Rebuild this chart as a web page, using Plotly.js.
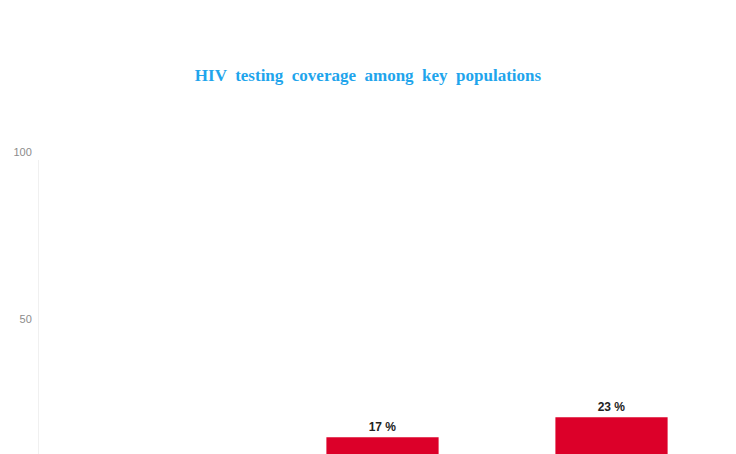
<!DOCTYPE html>
<html>
<head>
<meta charset="utf-8">
<script src="https://cdn.plot.ly/plotly-3.0.1.min.js"></script>
<style>
  html, body { margin: 0; padding: 0; overflow: hidden; background: #fff; }
</style>
</head>
<body>
<div id="chart"></div>
<script>
// key populations and their testing coverage (%)
var populations = ['Sex workers', 'Gay men and other men who have sex with men', 'People who inject drugs'];
var coverage = [null, 17, 23];
var coverageLabels = ['', '17 %', '23 %'];
var yTicks = [0, 50, 100];

var fullHeight = 574;

var data = [{
	type: 'bar',
	x: populations,
	y: coverage,
	text: coverageLabels,
	textposition: 'outside',
	cliponaxis: false,
	textfont: {family: 'Liberation Sans, Arial, sans-serif', size: 12, color: '#222', weight: 'bold'},
	marker: {color: '#dc0029'},
	hoverinfo: 'none'
}];

var layout = {
	width: 736,
	height: fullHeight,
	margin: {l: 39, r: 10, t: 160, b: 80},
	paper_bgcolor: '#fff',
	plot_bgcolor: '#fff',
	bargap: 0.51,
	showlegend: false,
	title: {
		text: 'HIV  testing  coverage  among  key  populations',
		font: {family: 'Liberation Serif, Times New Roman, serif', size: 17, color: '#1fa5ec', weight: 'bold'},
		x: 0.5,
		xanchor: 'center',
		yref: 'container',
		y: 1 - 75 / fullHeight,
		yanchor: 'middle'
	},
	xaxis: {
		showgrid: false,
		zeroline: false,
		showline: false,
		tickfont: {family: 'Liberation Sans, Arial, sans-serif', size: 11, color: '#666'}
	},
	yaxis: {
		range: [0, 100],
		tickvals: yTicks,
		ticktext: yTicks.map(String),
		showgrid: false,
		zeroline: false,
		showline: true,
		linecolor: '#f0f0f0',
		linewidth: 1,
		ticks: '',
		ticklabelposition: 'outside top',
		ticklabelstandoff: 4,
		tickfont: {family: 'Liberation Sans, Arial, sans-serif', size: 11, color: '#8c8c8c'}
	}
};

Plotly.newPlot('chart', data, layout, {displayModeBar: false, staticPlot: true});
</script>
</body>
</html>
